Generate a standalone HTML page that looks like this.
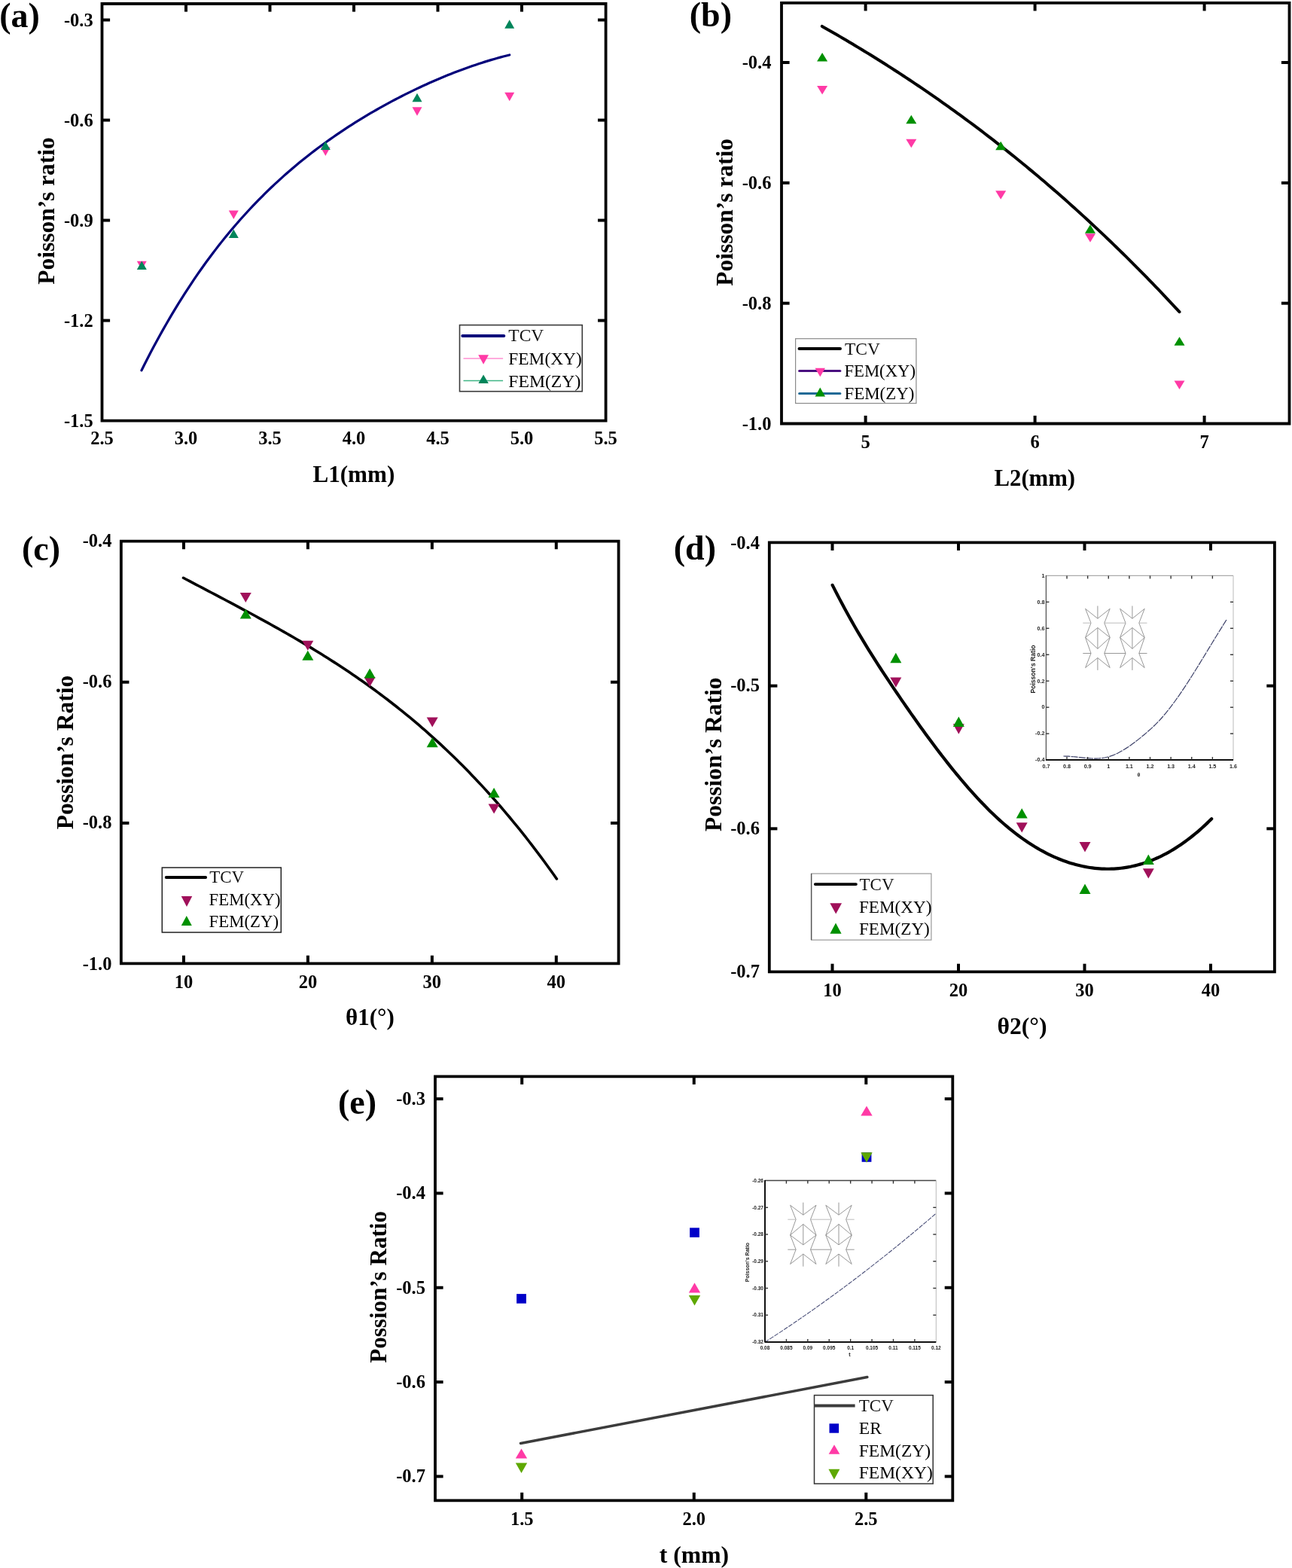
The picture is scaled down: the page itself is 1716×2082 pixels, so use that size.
<!DOCTYPE html>
<html><head><meta charset="utf-8"><style>html,body{margin:0;padding:0;background:#fff;width:1716px;height:2082px;overflow:hidden}svg{display:block}</style></head><body>
<svg width="1716" height="2082" viewBox="0 0 1716 2082">
<rect width="1716" height="2082" fill="#fff"/>
<path d="M135.50,5.00H804.60V558.60H135.50Z" fill="none" stroke="#000" stroke-width="3.8" stroke-linejoin="miter"/>
<line x1="247.00" y1="5.00" x2="247.00" y2="15.60" stroke="#000" stroke-width="4" stroke-linecap="butt"/>
<line x1="358.50" y1="5.00" x2="358.50" y2="15.60" stroke="#000" stroke-width="4" stroke-linecap="butt"/>
<line x1="470.00" y1="5.00" x2="470.00" y2="15.60" stroke="#000" stroke-width="4" stroke-linecap="butt"/>
<line x1="581.50" y1="5.00" x2="581.50" y2="15.60" stroke="#000" stroke-width="4" stroke-linecap="butt"/>
<line x1="693.00" y1="5.00" x2="693.00" y2="15.60" stroke="#000" stroke-width="4" stroke-linecap="butt"/>
<line x1="135.50" y1="26.50" x2="146.10" y2="26.50" stroke="#000" stroke-width="4" stroke-linecap="butt"/>
<line x1="804.60" y1="26.50" x2="794.00" y2="26.50" stroke="#000" stroke-width="4" stroke-linecap="butt"/>
<line x1="135.50" y1="159.53" x2="146.10" y2="159.53" stroke="#000" stroke-width="4" stroke-linecap="butt"/>
<line x1="804.60" y1="159.53" x2="794.00" y2="159.53" stroke="#000" stroke-width="4" stroke-linecap="butt"/>
<line x1="135.50" y1="292.55" x2="146.10" y2="292.55" stroke="#000" stroke-width="4" stroke-linecap="butt"/>
<line x1="804.60" y1="292.55" x2="794.00" y2="292.55" stroke="#000" stroke-width="4" stroke-linecap="butt"/>
<line x1="135.50" y1="425.57" x2="146.10" y2="425.57" stroke="#000" stroke-width="4" stroke-linecap="butt"/>
<line x1="804.60" y1="425.57" x2="794.00" y2="425.57" stroke="#000" stroke-width="4" stroke-linecap="butt"/>
<text x="135.50" y="590.30" font-family="'Liberation Serif','Times New Roman',serif" font-size="24.5" font-weight="bold" text-anchor="middle" fill="#000">2.5</text>
<text x="247.00" y="590.30" font-family="'Liberation Serif','Times New Roman',serif" font-size="24.5" font-weight="bold" text-anchor="middle" fill="#000">3.0</text>
<text x="358.50" y="590.30" font-family="'Liberation Serif','Times New Roman',serif" font-size="24.5" font-weight="bold" text-anchor="middle" fill="#000">3.5</text>
<text x="470.00" y="590.30" font-family="'Liberation Serif','Times New Roman',serif" font-size="24.5" font-weight="bold" text-anchor="middle" fill="#000">4.0</text>
<text x="581.50" y="590.30" font-family="'Liberation Serif','Times New Roman',serif" font-size="24.5" font-weight="bold" text-anchor="middle" fill="#000">4.5</text>
<text x="693.00" y="590.30" font-family="'Liberation Serif','Times New Roman',serif" font-size="24.5" font-weight="bold" text-anchor="middle" fill="#000">5.0</text>
<text x="804.50" y="590.30" font-family="'Liberation Serif','Times New Roman',serif" font-size="24.5" font-weight="bold" text-anchor="middle" fill="#000">5.5</text>
<text x="123.70" y="34.70" font-family="'Liberation Serif','Times New Roman',serif" font-size="24.5" font-weight="bold" text-anchor="end" fill="#000">-0.3</text>
<text x="123.70" y="167.72" font-family="'Liberation Serif','Times New Roman',serif" font-size="24.5" font-weight="bold" text-anchor="end" fill="#000">-0.6</text>
<text x="123.70" y="300.75" font-family="'Liberation Serif','Times New Roman',serif" font-size="24.5" font-weight="bold" text-anchor="end" fill="#000">-0.9</text>
<text x="123.70" y="433.77" font-family="'Liberation Serif','Times New Roman',serif" font-size="24.5" font-weight="bold" text-anchor="end" fill="#000">-1.2</text>
<text x="123.70" y="566.80" font-family="'Liberation Serif','Times New Roman',serif" font-size="24.5" font-weight="bold" text-anchor="end" fill="#000">-1.5</text>
<text x="0" y="0" transform="translate(469.90 639.70) scale(0.974 1)" font-family="'Liberation Serif','Times New Roman',serif" font-size="32" font-weight="bold" text-anchor="middle" fill="#000">L1(mm)</text>
<text x="71.70" y="280.00" font-family="'Liberation Serif','Times New Roman',serif" font-size="31.5" font-weight="bold" text-anchor="middle" fill="#000" transform="rotate(-90 71.7 280)">Poisson’s ratio</text>
<text x="-0.80" y="36.00" font-family="'Liberation Serif','Times New Roman',serif" font-size="46" font-weight="bold" text-anchor="start" fill="#000">(a)</text>
<polyline points="188.00,491.74 192.11,483.54 196.21,475.49 200.32,467.59 204.43,459.83 208.53,452.22 212.64,444.74 216.75,437.40 220.85,430.19 224.96,423.11 229.07,416.16 233.17,409.34 237.28,402.64 241.39,396.06 245.49,389.61 249.60,383.27 253.71,377.04 257.81,370.93 261.92,364.92 266.03,359.03 270.13,353.24 274.24,347.55 278.35,341.97 282.45,336.49 286.56,331.10 290.67,325.81 294.77,320.62 298.88,315.51 302.99,310.50 307.09,305.58 311.20,300.74 315.31,295.98 319.42,291.31 323.52,286.72 327.63,282.21 331.74,277.77 335.84,273.41 339.95,269.13 344.06,264.92 348.16,260.78 352.27,256.71 356.38,252.70 360.48,248.77 364.59,244.90 368.70,241.09 372.80,237.34 376.91,233.66 381.02,230.03 385.12,226.47 389.23,222.96 393.34,219.50 397.44,216.10 401.55,212.75 405.66,209.46 409.76,206.21 413.87,203.02 417.98,199.87 422.08,196.77 426.19,193.72 430.30,190.71 434.40,187.75 438.51,184.83 442.62,181.96 446.72,179.12 450.83,176.33 454.94,173.58 459.04,170.86 463.15,168.19 467.26,165.55 471.36,162.95 475.47,160.39 479.58,157.86 483.68,155.37 487.79,152.91 491.90,150.48 496.00,148.09 500.11,145.74 504.22,143.41 508.32,141.12 512.43,138.85 516.54,136.62 520.64,134.42 524.75,132.25 528.86,130.11 532.96,128.00 537.07,125.93 541.18,123.87 545.28,121.85 549.39,119.86 553.50,117.90 557.61,115.96 561.71,114.06 565.82,112.18 569.93,110.33 574.03,108.51 578.14,106.72 582.25,104.96 586.35,103.23 590.46,101.53 594.57,99.85 598.67,98.21 602.78,96.59 606.89,95.00 610.99,93.45 615.10,91.92 619.21,90.43 623.31,88.97 627.42,87.54 631.53,86.14 635.63,84.77 639.74,83.43 643.85,82.13 647.95,80.87 652.06,79.63 656.17,78.44 660.27,77.27 664.38,76.15 668.49,75.06 672.59,74.01 676.70,73.00" fill="none" stroke="#00007a" stroke-width="3.2" stroke-linejoin="round" stroke-linecap="round"/>
<polygon points="188.30,358.15 194.80,346.65 181.80,346.65" fill="#ff3aa6"/>
<polygon points="310.30,291.05 316.80,279.55 303.80,279.55" fill="#ff3aa6"/>
<polygon points="432.30,206.95 438.80,195.45 425.80,195.45" fill="#ff3aa6"/>
<polygon points="554.00,153.75 560.50,142.25 547.50,142.25" fill="#ff3aa6"/>
<polygon points="676.70,134.25 683.20,122.75 670.20,122.75" fill="#ff3aa6"/>
<polygon points="188.30,346.45 194.80,357.95 181.80,357.95" fill="#00855a"/>
<polygon points="310.30,304.55 316.80,316.05 303.80,316.05" fill="#00855a"/>
<polygon points="432.30,187.45 438.80,198.95 425.80,198.95" fill="#00855a"/>
<polygon points="554.00,123.65 560.50,135.15 547.50,135.15" fill="#00855a"/>
<polygon points="676.70,26.25 683.20,37.75 670.20,37.75" fill="#00855a"/>
<rect x="610.50" y="431.60" width="162.80" height="88.10" stroke="#3a3a3a" stroke-width="1.6" fill="#fff"/>
<line x1="614.40" y1="446.00" x2="669.20" y2="446.00" stroke="#00007a" stroke-width="4.2" stroke-linecap="round"/>
<text x="675.30" y="453.20" font-family="'Liberation Serif','Times New Roman',serif" font-size="23.5" font-weight="normal" text-anchor="start" fill="#111">TCV</text>
<line x1="615.50" y1="475.90" x2="668.10" y2="475.90" stroke="#ff8fd2" stroke-width="1.5" stroke-linecap="butt"/>
<polygon points="642.10,483.65 649.00,471.15 635.20,471.15" fill="#ff3aa6"/>
<text x="675.30" y="484.20" font-family="'Liberation Serif','Times New Roman',serif" font-size="23.5" font-weight="normal" text-anchor="start" fill="#000" textLength="97.5" lengthAdjust="spacingAndGlyphs">FEM(XY)</text>
<line x1="615.50" y1="505.60" x2="668.10" y2="505.60" stroke="#3fb585" stroke-width="1.5" stroke-linecap="butt"/>
<polygon points="642.10,497.50 648.85,509.10 635.35,509.10" fill="#00855a"/>
<text x="675.30" y="513.60" font-family="'Liberation Serif','Times New Roman',serif" font-size="23.5" font-weight="normal" text-anchor="start" fill="#000" textLength="96" lengthAdjust="spacingAndGlyphs">FEM(ZY)</text>
<path d="M1038.00,3.85H1712.50V562.50H1038.00Z" fill="none" stroke="#000" stroke-width="3.8" stroke-linejoin="miter"/>
<line x1="1149.60" y1="3.85" x2="1149.60" y2="14.45" stroke="#000" stroke-width="4" stroke-linecap="butt"/>
<line x1="1149.60" y1="562.50" x2="1149.60" y2="551.90" stroke="#000" stroke-width="4" stroke-linecap="butt"/>
<line x1="1374.60" y1="3.85" x2="1374.60" y2="14.45" stroke="#000" stroke-width="4" stroke-linecap="butt"/>
<line x1="1374.60" y1="562.50" x2="1374.60" y2="551.90" stroke="#000" stroke-width="4" stroke-linecap="butt"/>
<line x1="1599.60" y1="3.85" x2="1599.60" y2="14.45" stroke="#000" stroke-width="4" stroke-linecap="butt"/>
<line x1="1599.60" y1="562.50" x2="1599.60" y2="551.90" stroke="#000" stroke-width="4" stroke-linecap="butt"/>
<line x1="1038.00" y1="83.00" x2="1048.60" y2="83.00" stroke="#000" stroke-width="4" stroke-linecap="butt"/>
<line x1="1712.50" y1="83.00" x2="1701.90" y2="83.00" stroke="#000" stroke-width="4" stroke-linecap="butt"/>
<line x1="1038.00" y1="242.83" x2="1048.60" y2="242.83" stroke="#000" stroke-width="4" stroke-linecap="butt"/>
<line x1="1712.50" y1="242.83" x2="1701.90" y2="242.83" stroke="#000" stroke-width="4" stroke-linecap="butt"/>
<line x1="1038.00" y1="402.67" x2="1048.60" y2="402.67" stroke="#000" stroke-width="4" stroke-linecap="butt"/>
<line x1="1712.50" y1="402.67" x2="1701.90" y2="402.67" stroke="#000" stroke-width="4" stroke-linecap="butt"/>
<text x="1149.60" y="595.00" font-family="'Liberation Serif','Times New Roman',serif" font-size="24.5" font-weight="bold" text-anchor="middle" fill="#000">5</text>
<text x="1374.60" y="595.00" font-family="'Liberation Serif','Times New Roman',serif" font-size="24.5" font-weight="bold" text-anchor="middle" fill="#000">6</text>
<text x="1599.60" y="595.00" font-family="'Liberation Serif','Times New Roman',serif" font-size="24.5" font-weight="bold" text-anchor="middle" fill="#000">7</text>
<text x="1024.50" y="91.20" font-family="'Liberation Serif','Times New Roman',serif" font-size="24.5" font-weight="bold" text-anchor="end" fill="#000">-0.4</text>
<text x="1024.50" y="251.03" font-family="'Liberation Serif','Times New Roman',serif" font-size="24.5" font-weight="bold" text-anchor="end" fill="#000">-0.6</text>
<text x="1024.50" y="410.87" font-family="'Liberation Serif','Times New Roman',serif" font-size="24.5" font-weight="bold" text-anchor="end" fill="#000">-0.8</text>
<text x="1024.50" y="570.70" font-family="'Liberation Serif','Times New Roman',serif" font-size="24.5" font-weight="bold" text-anchor="end" fill="#000">-1.0</text>
<text x="0" y="0" transform="translate(1374.30 645.00) scale(0.962 1)" font-family="'Liberation Serif','Times New Roman',serif" font-size="32" font-weight="bold" text-anchor="middle" fill="#000">L2(mm)</text>
<text x="972.80" y="281.80" font-family="'Liberation Serif','Times New Roman',serif" font-size="31.5" font-weight="bold" text-anchor="middle" fill="#000" transform="rotate(-90 972.8 281.8)">Poisson’s ratio</text>
<text x="915.80" y="35.00" font-family="'Liberation Serif','Times New Roman',serif" font-size="46" font-weight="bold" text-anchor="start" fill="#000">(b)</text>
<polyline points="1091.80,34.91 1095.79,37.17 1099.78,39.44 1103.77,41.72 1107.76,44.01 1111.75,46.32 1115.73,48.64 1119.72,50.98 1123.71,53.32 1127.70,55.68 1131.69,58.06 1135.68,60.44 1139.67,62.84 1143.66,65.25 1147.65,67.68 1151.64,70.12 1155.63,72.57 1159.61,75.04 1163.60,77.52 1167.59,80.02 1171.58,82.53 1175.57,85.05 1179.56,87.59 1183.55,90.14 1187.54,92.70 1191.53,95.28 1195.52,97.88 1199.51,100.49 1203.49,103.11 1207.48,105.75 1211.47,108.40 1215.46,111.07 1219.45,113.75 1223.44,116.45 1227.43,119.17 1231.42,121.89 1235.41,124.64 1239.40,127.40 1243.38,130.17 1247.37,132.96 1251.36,135.77 1255.35,138.59 1259.34,141.43 1263.33,144.28 1267.32,147.15 1271.31,150.04 1275.30,152.94 1279.29,155.86 1283.28,158.79 1287.26,161.74 1291.25,164.71 1295.24,167.69 1299.23,170.69 1303.22,173.71 1307.21,176.75 1311.20,179.80 1315.19,182.87 1319.18,185.95 1323.17,189.05 1327.16,192.17 1331.14,195.31 1335.13,198.46 1339.12,201.64 1343.11,204.83 1347.10,208.03 1351.09,211.26 1355.08,214.50 1359.07,217.76 1363.06,221.04 1367.05,224.34 1371.04,227.65 1375.02,230.99 1379.01,234.34 1383.00,237.71 1386.99,241.10 1390.98,244.50 1394.97,247.93 1398.96,251.38 1402.95,254.84 1406.94,258.32 1410.93,261.82 1414.92,265.34 1418.90,268.88 1422.89,272.44 1426.88,276.02 1430.87,279.62 1434.86,283.24 1438.85,286.88 1442.84,290.53 1446.83,294.21 1450.82,297.91 1454.81,301.62 1458.79,305.36 1462.78,309.12 1466.77,312.90 1470.76,316.69 1474.75,320.51 1478.74,324.35 1482.73,328.21 1486.72,332.09 1490.71,335.99 1494.70,339.91 1498.69,343.85 1502.67,347.81 1506.66,351.80 1510.65,355.80 1514.64,359.83 1518.63,363.88 1522.62,367.95 1526.61,372.04 1530.60,376.15 1534.59,380.28 1538.58,384.44 1542.57,388.62 1546.55,392.81 1550.54,397.04 1554.53,401.28 1558.52,405.54 1562.51,409.83 1566.50,414.14" fill="none" stroke="#000" stroke-width="4" stroke-linejoin="round" stroke-linecap="round"/>
<polygon points="1092.10,69.95 1099.10,81.45 1085.10,81.45" fill="#009000"/>
<polygon points="1210.30,152.65 1217.30,164.15 1203.30,164.15" fill="#009000"/>
<polygon points="1329.20,187.75 1336.20,199.25 1322.20,199.25" fill="#009000"/>
<polygon points="1448.00,298.25 1455.00,309.75 1441.00,309.75" fill="#009000"/>
<polygon points="1566.50,447.25 1573.50,458.75 1559.50,458.75" fill="#009000"/>
<polygon points="1092.10,125.55 1099.10,114.05 1085.10,114.05" fill="#ff3aa6"/>
<polygon points="1210.30,196.25 1217.30,184.75 1203.30,184.75" fill="#ff3aa6"/>
<polygon points="1329.20,264.85 1336.20,253.35 1322.20,253.35" fill="#ff3aa6"/>
<polygon points="1448.00,321.85 1455.00,310.35 1441.00,310.35" fill="#ff3aa6"/>
<polygon points="1566.50,516.95 1573.50,505.45 1559.50,505.45" fill="#ff3aa6"/>
<rect x="1056.60" y="449.70" width="160.30" height="85.80" stroke="#8a8a8a" stroke-width="1.2" fill="#fff"/>
<line x1="1061.60" y1="463.00" x2="1115.90" y2="463.00" stroke="#000" stroke-width="4.2" stroke-linecap="round"/>
<text x="1122.00" y="470.80" font-family="'Liberation Serif','Times New Roman',serif" font-size="23.5" font-weight="normal" text-anchor="start" fill="#111">TCV</text>
<line x1="1061.60" y1="492.60" x2="1115.90" y2="492.60" stroke="#4a1080" stroke-width="3" stroke-linecap="round"/>
<polygon points="1089.30,500.35 1096.05,488.65 1082.55,488.65" fill="#ff3aa6"/>
<text x="1121.40" y="500.40" font-family="'Liberation Serif','Times New Roman',serif" font-size="23.5" font-weight="normal" text-anchor="start" fill="#000" textLength="94.7" lengthAdjust="spacingAndGlyphs">FEM(XY)</text>
<line x1="1061.60" y1="522.50" x2="1115.90" y2="522.50" stroke="#1f6a96" stroke-width="3" stroke-linecap="round"/>
<polygon points="1089.30,514.40 1096.05,526.40 1082.55,526.40" fill="#009000"/>
<text x="1121.40" y="529.70" font-family="'Liberation Serif','Times New Roman',serif" font-size="23.5" font-weight="normal" text-anchor="start" fill="#000" textLength="93" lengthAdjust="spacingAndGlyphs">FEM(ZY)</text>
<path d="M160.85,718.65H821.60V1279.30H160.85Z" fill="none" stroke="#000" stroke-width="3.8" stroke-linejoin="miter"/>
<line x1="244.00" y1="718.65" x2="244.00" y2="729.25" stroke="#000" stroke-width="4" stroke-linecap="butt"/>
<line x1="244.00" y1="1279.30" x2="244.00" y2="1268.70" stroke="#000" stroke-width="4" stroke-linecap="butt"/>
<line x1="408.93" y1="718.65" x2="408.93" y2="729.25" stroke="#000" stroke-width="4" stroke-linecap="butt"/>
<line x1="408.93" y1="1279.30" x2="408.93" y2="1268.70" stroke="#000" stroke-width="4" stroke-linecap="butt"/>
<line x1="573.87" y1="718.65" x2="573.87" y2="729.25" stroke="#000" stroke-width="4" stroke-linecap="butt"/>
<line x1="573.87" y1="1279.30" x2="573.87" y2="1268.70" stroke="#000" stroke-width="4" stroke-linecap="butt"/>
<line x1="738.80" y1="718.65" x2="738.80" y2="729.25" stroke="#000" stroke-width="4" stroke-linecap="butt"/>
<line x1="738.80" y1="1279.30" x2="738.80" y2="1268.70" stroke="#000" stroke-width="4" stroke-linecap="butt"/>
<line x1="160.85" y1="905.73" x2="171.45" y2="905.73" stroke="#000" stroke-width="4" stroke-linecap="butt"/>
<line x1="821.60" y1="905.73" x2="811.00" y2="905.73" stroke="#000" stroke-width="4" stroke-linecap="butt"/>
<line x1="160.85" y1="1092.87" x2="171.45" y2="1092.87" stroke="#000" stroke-width="4" stroke-linecap="butt"/>
<line x1="821.60" y1="1092.87" x2="811.00" y2="1092.87" stroke="#000" stroke-width="4" stroke-linecap="butt"/>
<text x="244.00" y="1311.50" font-family="'Liberation Serif','Times New Roman',serif" font-size="24.5" font-weight="bold" text-anchor="middle" fill="#000">10</text>
<text x="408.93" y="1311.50" font-family="'Liberation Serif','Times New Roman',serif" font-size="24.5" font-weight="bold" text-anchor="middle" fill="#000">20</text>
<text x="573.87" y="1311.50" font-family="'Liberation Serif','Times New Roman',serif" font-size="24.5" font-weight="bold" text-anchor="middle" fill="#000">30</text>
<text x="738.80" y="1311.50" font-family="'Liberation Serif','Times New Roman',serif" font-size="24.5" font-weight="bold" text-anchor="middle" fill="#000">40</text>
<text x="148.50" y="726.10" font-family="'Liberation Serif','Times New Roman',serif" font-size="24.5" font-weight="bold" text-anchor="end" fill="#000">-0.4</text>
<text x="148.50" y="913.23" font-family="'Liberation Serif','Times New Roman',serif" font-size="24.5" font-weight="bold" text-anchor="end" fill="#000">-0.6</text>
<text x="148.50" y="1100.37" font-family="'Liberation Serif','Times New Roman',serif" font-size="24.5" font-weight="bold" text-anchor="end" fill="#000">-0.8</text>
<text x="148.50" y="1287.50" font-family="'Liberation Serif','Times New Roman',serif" font-size="24.5" font-weight="bold" text-anchor="end" fill="#000">-1.0</text>
<text x="0" y="0" transform="translate(491.40 1360.80) scale(0.969 1)" font-family="'Liberation Serif','Times New Roman',serif" font-size="32" font-weight="bold" text-anchor="middle" fill="#000">θ1(°)</text>
<text x="97.00" y="999.10" font-family="'Liberation Serif','Times New Roman',serif" font-size="31.5" font-weight="bold" text-anchor="middle" fill="#000" transform="rotate(-90 97 999.1)">Possion’s Ratio</text>
<text x="29.00" y="744.00" font-family="'Liberation Serif','Times New Roman',serif" font-size="46" font-weight="bold" text-anchor="start" fill="#000">(c)</text>
<polyline points="243.50,767.27 247.67,769.47 251.83,771.67 256.00,773.87 260.17,776.06 264.34,778.25 268.50,780.44 272.67,782.63 276.84,784.82 281.01,787.01 285.17,789.20 289.34,791.39 293.51,793.58 297.67,795.78 301.84,797.98 306.01,800.19 310.18,802.39 314.34,804.61 318.51,806.83 322.68,809.06 326.84,811.29 331.01,813.53 335.18,815.78 339.35,818.04 343.51,820.31 347.68,822.58 351.85,824.87 356.02,827.17 360.18,829.48 364.35,831.81 368.52,834.14 372.68,836.49 376.85,838.86 381.02,841.24 385.19,843.63 389.35,846.04 393.52,848.47 397.69,850.92 401.85,853.38 406.02,855.86 410.19,858.36 414.36,860.88 418.52,863.42 422.69,865.98 426.86,868.56 431.03,871.16 435.19,873.79 439.36,876.44 443.53,879.11 447.69,881.81 451.86,884.53 456.03,887.28 460.20,890.06 464.36,892.86 468.53,895.69 472.70,898.54 476.86,901.43 481.03,904.34 485.20,907.29 489.37,910.26 493.53,913.27 497.70,916.30 501.87,919.37 506.04,922.48 510.20,925.61 514.37,928.78 518.54,931.98 522.70,935.22 526.87,938.50 531.04,941.81 535.21,945.16 539.37,948.54 543.54,951.97 547.71,955.43 551.87,958.93 556.04,962.47 560.21,966.06 564.38,969.68 568.54,973.35 572.71,977.05 576.88,980.80 581.05,984.60 585.21,988.44 589.38,992.32 593.55,996.25 597.71,1000.22 601.88,1004.24 606.05,1008.31 610.22,1012.43 614.38,1016.59 618.55,1020.81 622.72,1025.07 626.88,1029.38 631.05,1033.74 635.22,1038.16 639.39,1042.63 643.55,1047.14 647.72,1051.72 651.89,1056.34 656.06,1061.02 660.22,1065.76 664.39,1070.55 668.56,1075.40 672.72,1080.30 676.89,1085.26 681.06,1090.28 685.23,1095.36 689.39,1100.49 693.56,1105.69 697.73,1110.95 701.89,1116.26 706.06,1121.64 710.23,1127.08 714.40,1132.59 718.56,1138.16 722.73,1143.79 726.90,1149.48 731.07,1155.24 735.23,1161.07 739.40,1166.96" fill="none" stroke="#000" stroke-width="3.6" stroke-linejoin="round" stroke-linecap="round"/>
<polygon points="326.30,800.10 333.80,787.10 318.80,787.10" fill="#a0105a"/>
<polygon points="408.80,863.70 416.30,850.70 401.30,850.70" fill="#a0105a"/>
<polygon points="491.10,912.00 498.60,899.00 483.60,899.00" fill="#a0105a"/>
<polygon points="574.20,965.60 581.70,952.60 566.70,952.60" fill="#a0105a"/>
<polygon points="656.10,1080.40 663.60,1067.40 648.60,1067.40" fill="#a0105a"/>
<polygon points="326.30,808.50 333.80,821.50 318.80,821.50" fill="#009000"/>
<polygon points="408.80,863.70 416.30,876.70 401.30,876.70" fill="#009000"/>
<polygon points="491.10,887.50 498.60,900.50 483.60,900.50" fill="#009000"/>
<polygon points="574.20,979.30 581.70,992.30 566.70,992.30" fill="#009000"/>
<polygon points="656.10,1046.10 663.60,1059.10 648.60,1059.10" fill="#009000"/>
<rect x="215.30" y="1152.00" width="158.00" height="86.00" stroke="#222" stroke-width="1.5" fill="#fff"/>
<line x1="220.70" y1="1165.00" x2="273.20" y2="1165.00" stroke="#000" stroke-width="3.8" stroke-linecap="round"/>
<text x="0" y="0" transform="translate(278.20 1171.60) scale(0.98 1)" font-family="'Liberation Serif','Times New Roman',serif" font-size="23.5" font-weight="normal" text-anchor="start" fill="#111">TCV</text>
<polygon points="248.00,1204.00 255.25,1190.00 240.75,1190.00" fill="#a0105a"/>
<text x="0" y="0" transform="translate(277.60 1202.30) scale(0.97 1)" font-family="'Liberation Serif','Times New Roman',serif" font-size="23.5" font-weight="normal" text-anchor="start" fill="#000">FEM(XY)</text>
<polygon points="247.80,1216.10 254.80,1229.10 240.80,1229.10" fill="#009000"/>
<text x="0" y="0" transform="translate(277.60 1230.90) scale(0.97 1)" font-family="'Liberation Serif','Times New Roman',serif" font-size="23.5" font-weight="normal" text-anchor="start" fill="#000">FEM(ZY)</text>
<path d="M1021.80,720.30H1692.90V1290.30H1021.80Z" fill="none" stroke="#000" stroke-width="3.8" stroke-linejoin="miter"/>
<line x1="1105.50" y1="720.30" x2="1105.50" y2="730.90" stroke="#000" stroke-width="4" stroke-linecap="butt"/>
<line x1="1105.50" y1="1290.30" x2="1105.50" y2="1279.70" stroke="#000" stroke-width="4" stroke-linecap="butt"/>
<line x1="1273.00" y1="720.30" x2="1273.00" y2="730.90" stroke="#000" stroke-width="4" stroke-linecap="butt"/>
<line x1="1273.00" y1="1290.30" x2="1273.00" y2="1279.70" stroke="#000" stroke-width="4" stroke-linecap="butt"/>
<line x1="1440.50" y1="720.30" x2="1440.50" y2="730.90" stroke="#000" stroke-width="4" stroke-linecap="butt"/>
<line x1="1440.50" y1="1290.30" x2="1440.50" y2="1279.70" stroke="#000" stroke-width="4" stroke-linecap="butt"/>
<line x1="1608.00" y1="720.30" x2="1608.00" y2="730.90" stroke="#000" stroke-width="4" stroke-linecap="butt"/>
<line x1="1608.00" y1="1290.30" x2="1608.00" y2="1279.70" stroke="#000" stroke-width="4" stroke-linecap="butt"/>
<line x1="1021.80" y1="910.67" x2="1032.40" y2="910.67" stroke="#000" stroke-width="4" stroke-linecap="butt"/>
<line x1="1692.90" y1="910.67" x2="1682.30" y2="910.67" stroke="#000" stroke-width="4" stroke-linecap="butt"/>
<line x1="1021.80" y1="1100.33" x2="1032.40" y2="1100.33" stroke="#000" stroke-width="4" stroke-linecap="butt"/>
<line x1="1692.90" y1="1100.33" x2="1682.30" y2="1100.33" stroke="#000" stroke-width="4" stroke-linecap="butt"/>
<text x="1105.50" y="1323.00" font-family="'Liberation Serif','Times New Roman',serif" font-size="24.5" font-weight="bold" text-anchor="middle" fill="#000">10</text>
<text x="1273.00" y="1323.00" font-family="'Liberation Serif','Times New Roman',serif" font-size="24.5" font-weight="bold" text-anchor="middle" fill="#000">20</text>
<text x="1440.50" y="1323.00" font-family="'Liberation Serif','Times New Roman',serif" font-size="24.5" font-weight="bold" text-anchor="middle" fill="#000">30</text>
<text x="1608.00" y="1323.00" font-family="'Liberation Serif','Times New Roman',serif" font-size="24.5" font-weight="bold" text-anchor="middle" fill="#000">40</text>
<text x="1009.00" y="728.50" font-family="'Liberation Serif','Times New Roman',serif" font-size="24.5" font-weight="bold" text-anchor="end" fill="#000">-0.4</text>
<text x="1009.00" y="918.17" font-family="'Liberation Serif','Times New Roman',serif" font-size="24.5" font-weight="bold" text-anchor="end" fill="#000">-0.5</text>
<text x="1009.00" y="1107.83" font-family="'Liberation Serif','Times New Roman',serif" font-size="24.5" font-weight="bold" text-anchor="end" fill="#000">-0.6</text>
<text x="1009.00" y="1297.50" font-family="'Liberation Serif','Times New Roman',serif" font-size="24.5" font-weight="bold" text-anchor="end" fill="#000">-0.7</text>
<text x="0" y="0" transform="translate(1357.50 1373.20) scale(0.99 1)" font-family="'Liberation Serif','Times New Roman',serif" font-size="32" font-weight="bold" text-anchor="middle" fill="#000">θ2(°)</text>
<text x="957.60" y="1001.80" font-family="'Liberation Serif','Times New Roman',serif" font-size="31.5" font-weight="bold" text-anchor="middle" fill="#000" transform="rotate(-90 957.6 1001.8)">Possion’s Ratio</text>
<text x="894.80" y="743.30" font-family="'Liberation Serif','Times New Roman',serif" font-size="46" font-weight="bold" text-anchor="start" fill="#000">(d)</text>
<polyline points="1105.60,776.83 1108.77,783.11 1111.93,789.29 1115.10,795.37 1118.27,801.35 1121.44,807.25 1124.60,813.05 1127.77,818.77 1130.94,824.40 1134.11,829.96 1137.27,835.44 1140.44,840.84 1143.61,846.18 1146.77,851.45 1149.94,856.66 1153.11,861.80 1156.28,866.89 1159.44,871.93 1162.61,876.92 1165.78,881.85 1168.95,886.75 1172.11,891.60 1175.28,896.42 1178.45,901.20 1181.62,905.95 1184.78,910.67 1187.95,915.36 1191.12,920.04 1194.28,924.69 1197.45,929.32 1200.62,933.92 1203.79,938.50 1206.95,943.05 1210.12,947.58 1213.29,952.08 1216.46,956.56 1219.62,961.00 1222.79,965.42 1225.96,969.80 1229.12,974.16 1232.29,978.49 1235.46,982.78 1238.63,987.04 1241.79,991.27 1244.96,995.46 1248.13,999.62 1251.30,1003.74 1254.46,1007.82 1257.63,1011.86 1260.80,1015.86 1263.96,1019.82 1267.13,1023.74 1270.30,1027.61 1273.47,1031.44 1276.63,1035.23 1279.80,1038.96 1282.97,1042.65 1286.14,1046.29 1289.30,1049.88 1292.47,1053.42 1295.64,1056.90 1298.81,1060.34 1301.97,1063.71 1305.14,1067.03 1308.31,1070.30 1311.47,1073.50 1314.64,1076.65 1317.81,1079.74 1320.98,1082.77 1324.14,1085.73 1327.31,1088.63 1330.48,1091.47 1333.65,1094.24 1336.81,1096.95 1339.98,1099.59 1343.15,1102.17 1346.31,1104.69 1349.48,1107.15 1352.65,1109.54 1355.82,1111.86 1358.98,1114.13 1362.15,1116.33 1365.32,1118.46 1368.49,1120.54 1371.65,1122.55 1374.82,1124.49 1377.99,1126.38 1381.15,1128.20 1384.32,1129.96 1387.49,1131.65 1390.66,1133.28 1393.82,1134.85 1396.99,1136.36 1400.16,1137.80 1403.33,1139.18 1406.49,1140.50 1409.66,1141.76 1412.83,1142.95 1415.99,1144.08 1419.16,1145.15 1422.33,1146.16 1425.50,1147.10 1428.66,1147.98 1431.83,1148.80 1435.00,1149.56 1438.17,1150.25 1441.33,1150.89 1444.50,1151.46 1447.67,1151.97 1450.84,1152.41 1454.00,1152.79 1457.17,1153.11 1460.34,1153.37 1463.50,1153.56 1466.67,1153.69 1469.84,1153.75 1473.01,1153.75 1476.17,1153.68 1479.34,1153.55 1482.51,1153.35 1485.68,1153.08 1488.84,1152.75 1492.01,1152.35 1495.18,1151.88 1498.34,1151.35 1501.51,1150.75 1504.68,1150.07 1507.85,1149.33 1511.01,1148.52 1514.18,1147.64 1517.35,1146.69 1520.52,1145.67 1523.68,1144.58 1526.85,1143.42 1530.02,1142.19 1533.18,1140.89 1536.35,1139.51 1539.52,1138.06 1542.69,1136.54 1545.85,1134.95 1549.02,1133.28 1552.19,1131.54 1555.36,1129.73 1558.52,1127.84 1561.69,1125.88 1564.86,1123.84 1568.03,1121.72 1571.19,1119.53 1574.36,1117.27 1577.53,1114.93 1580.69,1112.51 1583.86,1110.01 1587.03,1107.44 1590.20,1104.79 1593.36,1102.06 1596.53,1099.25 1599.70,1096.36 1602.87,1093.40 1606.03,1090.35 1609.20,1087.23" fill="none" stroke="#000" stroke-width="4.2" stroke-linejoin="round" stroke-linecap="round"/>
<polygon points="1189.80,912.80 1197.30,899.40 1182.30,899.40" fill="#a0105a"/>
<polygon points="1273.30,974.70 1280.80,961.30 1265.80,961.30" fill="#a0105a"/>
<polygon points="1357.20,1105.60 1364.70,1092.20 1349.70,1092.20" fill="#a0105a"/>
<polygon points="1441.00,1131.40 1448.50,1118.00 1433.50,1118.00" fill="#a0105a"/>
<polygon points="1525.30,1166.60 1532.80,1153.20 1517.80,1153.20" fill="#a0105a"/>
<polygon points="1189.80,866.80 1197.30,880.20 1182.30,880.20" fill="#009000"/>
<polygon points="1273.30,951.50 1280.80,964.90 1265.80,964.90" fill="#009000"/>
<polygon points="1357.20,1073.20 1364.70,1086.60 1349.70,1086.60" fill="#009000"/>
<polygon points="1441.00,1173.60 1448.50,1187.00 1433.50,1187.00" fill="#009000"/>
<polygon points="1525.30,1134.60 1532.80,1148.00 1517.80,1148.00" fill="#009000"/>
<rect x="1389.4" y="764.4" width="248.5999999999999" height="244.70000000000005" fill="#fff"/>
<polyline points="1441.60,808.30 1449.00,827.20 1441.60,846.50 1449.00,867.50 1441.60,886.60" fill="none" stroke="#8c8c8c" stroke-width="0.9" stroke-linejoin="round" stroke-linecap="butt"/>
<polyline points="1474.20,808.30 1466.80,827.20 1474.20,846.50 1466.80,867.50 1474.20,886.60" fill="none" stroke="#8c8c8c" stroke-width="0.9" stroke-linejoin="round" stroke-linecap="butt"/>
<polyline points="1441.60,808.30 1457.90,821.30 1474.20,808.30" fill="none" stroke="#8c8c8c" stroke-width="0.9" stroke-linejoin="round" stroke-linecap="butt"/>
<polyline points="1441.60,886.60 1457.90,873.50 1474.20,886.60" fill="none" stroke="#8c8c8c" stroke-width="0.9" stroke-linejoin="round" stroke-linecap="butt"/>
<polygon points="1457.90,833.50 1474.20,846.50 1457.90,861.40 1441.60,846.50" fill="none" stroke="#8c8c8c" stroke-width="0.9"/>
<line x1="1457.90" y1="804.50" x2="1457.90" y2="821.30" stroke="#8c8c8c" stroke-width="0.9" stroke-linecap="butt"/>
<line x1="1457.90" y1="833.50" x2="1457.90" y2="861.40" stroke="#8c8c8c" stroke-width="0.9" stroke-linecap="butt"/>
<line x1="1457.90" y1="873.50" x2="1457.90" y2="889.90" stroke="#8c8c8c" stroke-width="0.9" stroke-linecap="butt"/>
<polyline points="1487.60,808.30 1495.00,827.20 1487.60,846.50 1495.00,867.50 1487.60,886.60" fill="none" stroke="#8c8c8c" stroke-width="0.9" stroke-linejoin="round" stroke-linecap="butt"/>
<polyline points="1520.20,808.30 1512.80,827.20 1520.20,846.50 1512.80,867.50 1520.20,886.60" fill="none" stroke="#8c8c8c" stroke-width="0.9" stroke-linejoin="round" stroke-linecap="butt"/>
<polyline points="1487.60,808.30 1503.90,821.30 1520.20,808.30" fill="none" stroke="#8c8c8c" stroke-width="0.9" stroke-linejoin="round" stroke-linecap="butt"/>
<polyline points="1487.60,886.60 1503.90,873.50 1520.20,886.60" fill="none" stroke="#8c8c8c" stroke-width="0.9" stroke-linejoin="round" stroke-linecap="butt"/>
<polygon points="1503.90,833.50 1520.20,846.50 1503.90,861.40 1487.60,846.50" fill="none" stroke="#8c8c8c" stroke-width="0.9"/>
<line x1="1503.90" y1="804.50" x2="1503.90" y2="821.30" stroke="#8c8c8c" stroke-width="0.9" stroke-linecap="butt"/>
<line x1="1503.90" y1="833.50" x2="1503.90" y2="861.40" stroke="#8c8c8c" stroke-width="0.9" stroke-linecap="butt"/>
<line x1="1503.90" y1="873.50" x2="1503.90" y2="889.90" stroke="#8c8c8c" stroke-width="0.9" stroke-linecap="butt"/>
<line x1="1438.30" y1="827.20" x2="1449.00" y2="827.20" stroke="#b5b5b5" stroke-width="0.9" stroke-linecap="butt"/>
<line x1="1466.80" y1="827.20" x2="1495.00" y2="827.20" stroke="#b5b5b5" stroke-width="0.9" stroke-linecap="butt"/>
<line x1="1512.80" y1="827.20" x2="1523.50" y2="827.20" stroke="#b5b5b5" stroke-width="0.9" stroke-linecap="butt"/>
<line x1="1438.30" y1="867.50" x2="1449.00" y2="867.50" stroke="#8c8c8c" stroke-width="0.9" stroke-linecap="butt"/>
<line x1="1466.80" y1="867.50" x2="1495.00" y2="867.50" stroke="#8c8c8c" stroke-width="0.9" stroke-linecap="butt"/>
<line x1="1512.80" y1="867.50" x2="1523.50" y2="867.50" stroke="#8c8c8c" stroke-width="0.9" stroke-linecap="butt"/>
<polyline points="1412.40,1004.00 1414.59,1004.03 1416.78,1004.11 1418.97,1004.22 1421.16,1004.37 1423.35,1004.55 1425.54,1004.75 1427.73,1004.97 1429.92,1005.21 1432.11,1005.45 1434.30,1005.69 1436.49,1005.93 1438.68,1006.17 1440.87,1006.38 1443.06,1006.58 1445.25,1006.76 1447.44,1006.90 1449.63,1007.01 1451.82,1007.08 1454.01,1007.11 1456.20,1007.08 1458.39,1006.99 1460.58,1006.85 1462.77,1006.63 1464.96,1006.35 1467.15,1005.98 1469.34,1005.54 1471.53,1005.00 1473.72,1004.37 1475.91,1003.65 1478.10,1002.84 1480.29,1001.95 1482.48,1000.97 1484.67,999.92 1486.86,998.79 1489.05,997.59 1491.24,996.33 1493.43,995.00 1495.62,993.62 1497.81,992.18 1500.00,990.69 1502.19,989.16 1504.38,987.58 1506.57,985.96 1508.76,984.30 1510.95,982.60 1513.14,980.87 1515.33,979.11 1517.52,977.32 1519.71,975.49 1521.89,973.64 1524.08,971.75 1526.27,969.82 1528.46,967.85 1530.65,965.82 1532.84,963.73 1535.03,961.59 1537.22,959.37 1539.41,957.08 1541.60,954.72 1543.79,952.27 1545.98,949.73 1548.17,947.12 1550.36,944.44 1552.55,941.68 1554.74,938.86 1556.93,935.96 1559.12,933.01 1561.31,929.99 1563.50,926.92 1565.69,923.80 1567.88,920.62 1570.07,917.40 1572.26,914.13 1574.45,910.82 1576.64,907.47 1578.83,904.09 1581.02,900.67 1583.21,897.22 1585.40,893.75 1587.59,890.25 1589.78,886.73 1591.97,883.18 1594.16,879.63 1596.35,876.05 1598.54,872.47 1600.73,868.88 1602.92,865.28 1605.11,861.68 1607.30,858.08 1609.49,854.48 1611.68,850.88 1613.87,847.29 1616.06,843.71 1618.25,840.15 1620.44,836.60 1622.63,833.07 1624.82,829.55 1627.01,826.06 1629.20,822.60" fill="none" stroke="#3c4068" stroke-width="1.2" stroke-linejoin="round" stroke-linecap="butt" stroke-dasharray="9,1.2"/>
<line x1="1389.40" y1="764.40" x2="1638.00" y2="764.40" stroke="#aaa" stroke-width="1.1" stroke-linecap="butt"/>
<line x1="1638.00" y1="764.40" x2="1638.00" y2="1009.10" stroke="#bbb" stroke-width="1" stroke-linecap="butt"/>
<line x1="1389.40" y1="763.90" x2="1389.40" y2="1009.10" stroke="#555" stroke-width="1.3" stroke-linecap="butt"/>
<line x1="1388.90" y1="1009.10" x2="1638.00" y2="1009.10" stroke="#111" stroke-width="2" stroke-linecap="butt"/>
<line x1="1417.02" y1="764.40" x2="1417.02" y2="768.40" stroke="#333" stroke-width="1.4" stroke-linecap="butt"/>
<line x1="1417.02" y1="1009.10" x2="1417.02" y2="1005.10" stroke="#333" stroke-width="1.4" stroke-linecap="butt"/>
<line x1="1444.64" y1="764.40" x2="1444.64" y2="768.40" stroke="#333" stroke-width="1.4" stroke-linecap="butt"/>
<line x1="1444.64" y1="1009.10" x2="1444.64" y2="1005.10" stroke="#333" stroke-width="1.4" stroke-linecap="butt"/>
<line x1="1472.27" y1="764.40" x2="1472.27" y2="768.40" stroke="#333" stroke-width="1.4" stroke-linecap="butt"/>
<line x1="1472.27" y1="1009.10" x2="1472.27" y2="1005.10" stroke="#333" stroke-width="1.4" stroke-linecap="butt"/>
<line x1="1499.89" y1="764.40" x2="1499.89" y2="768.40" stroke="#333" stroke-width="1.4" stroke-linecap="butt"/>
<line x1="1499.89" y1="1009.10" x2="1499.89" y2="1005.10" stroke="#333" stroke-width="1.4" stroke-linecap="butt"/>
<line x1="1527.51" y1="764.40" x2="1527.51" y2="768.40" stroke="#333" stroke-width="1.4" stroke-linecap="butt"/>
<line x1="1527.51" y1="1009.10" x2="1527.51" y2="1005.10" stroke="#333" stroke-width="1.4" stroke-linecap="butt"/>
<line x1="1555.13" y1="764.40" x2="1555.13" y2="768.40" stroke="#333" stroke-width="1.4" stroke-linecap="butt"/>
<line x1="1555.13" y1="1009.10" x2="1555.13" y2="1005.10" stroke="#333" stroke-width="1.4" stroke-linecap="butt"/>
<line x1="1582.76" y1="764.40" x2="1582.76" y2="768.40" stroke="#333" stroke-width="1.4" stroke-linecap="butt"/>
<line x1="1582.76" y1="1009.10" x2="1582.76" y2="1005.10" stroke="#333" stroke-width="1.4" stroke-linecap="butt"/>
<line x1="1610.38" y1="764.40" x2="1610.38" y2="768.40" stroke="#333" stroke-width="1.4" stroke-linecap="butt"/>
<line x1="1610.38" y1="1009.10" x2="1610.38" y2="1005.10" stroke="#333" stroke-width="1.4" stroke-linecap="butt"/>
<line x1="1389.40" y1="799.36" x2="1393.40" y2="799.36" stroke="#333" stroke-width="1.4" stroke-linecap="butt"/>
<line x1="1638.00" y1="799.36" x2="1634.00" y2="799.36" stroke="#333" stroke-width="1.4" stroke-linecap="butt"/>
<line x1="1389.40" y1="834.31" x2="1393.40" y2="834.31" stroke="#333" stroke-width="1.4" stroke-linecap="butt"/>
<line x1="1638.00" y1="834.31" x2="1634.00" y2="834.31" stroke="#333" stroke-width="1.4" stroke-linecap="butt"/>
<line x1="1389.40" y1="869.27" x2="1393.40" y2="869.27" stroke="#333" stroke-width="1.4" stroke-linecap="butt"/>
<line x1="1638.00" y1="869.27" x2="1634.00" y2="869.27" stroke="#333" stroke-width="1.4" stroke-linecap="butt"/>
<line x1="1389.40" y1="904.23" x2="1393.40" y2="904.23" stroke="#333" stroke-width="1.4" stroke-linecap="butt"/>
<line x1="1638.00" y1="904.23" x2="1634.00" y2="904.23" stroke="#333" stroke-width="1.4" stroke-linecap="butt"/>
<line x1="1389.40" y1="939.19" x2="1393.40" y2="939.19" stroke="#333" stroke-width="1.4" stroke-linecap="butt"/>
<line x1="1638.00" y1="939.19" x2="1634.00" y2="939.19" stroke="#333" stroke-width="1.4" stroke-linecap="butt"/>
<line x1="1389.40" y1="974.14" x2="1393.40" y2="974.14" stroke="#333" stroke-width="1.4" stroke-linecap="butt"/>
<line x1="1638.00" y1="974.14" x2="1634.00" y2="974.14" stroke="#333" stroke-width="1.4" stroke-linecap="butt"/>
<text x="1389.40" y="1019.60" font-family="'Liberation Sans',Arial,sans-serif" font-size="7.2" font-weight="bold" text-anchor="middle" fill="#222">0.7</text>
<text x="1417.02" y="1019.60" font-family="'Liberation Sans',Arial,sans-serif" font-size="7.2" font-weight="bold" text-anchor="middle" fill="#222">0.8</text>
<text x="1444.64" y="1019.60" font-family="'Liberation Sans',Arial,sans-serif" font-size="7.2" font-weight="bold" text-anchor="middle" fill="#222">0.9</text>
<text x="1472.27" y="1019.60" font-family="'Liberation Sans',Arial,sans-serif" font-size="7.2" font-weight="bold" text-anchor="middle" fill="#222">1</text>
<text x="1499.89" y="1019.60" font-family="'Liberation Sans',Arial,sans-serif" font-size="7.2" font-weight="bold" text-anchor="middle" fill="#222">1.1</text>
<text x="1527.51" y="1019.60" font-family="'Liberation Sans',Arial,sans-serif" font-size="7.2" font-weight="bold" text-anchor="middle" fill="#222">1.2</text>
<text x="1555.13" y="1019.60" font-family="'Liberation Sans',Arial,sans-serif" font-size="7.2" font-weight="bold" text-anchor="middle" fill="#222">1.3</text>
<text x="1582.76" y="1019.60" font-family="'Liberation Sans',Arial,sans-serif" font-size="7.2" font-weight="bold" text-anchor="middle" fill="#222">1.4</text>
<text x="1610.38" y="1019.60" font-family="'Liberation Sans',Arial,sans-serif" font-size="7.2" font-weight="bold" text-anchor="middle" fill="#222">1.5</text>
<text x="1638.00" y="1019.60" font-family="'Liberation Sans',Arial,sans-serif" font-size="7.2" font-weight="bold" text-anchor="middle" fill="#222">1.6</text>
<text x="1387.40" y="766.70" font-family="'Liberation Sans',Arial,sans-serif" font-size="7.2" font-weight="bold" text-anchor="end" fill="#222">1</text>
<text x="1387.40" y="801.66" font-family="'Liberation Sans',Arial,sans-serif" font-size="7.2" font-weight="bold" text-anchor="end" fill="#222">0.8</text>
<text x="1387.40" y="836.61" font-family="'Liberation Sans',Arial,sans-serif" font-size="7.2" font-weight="bold" text-anchor="end" fill="#222">0.6</text>
<text x="1387.40" y="871.57" font-family="'Liberation Sans',Arial,sans-serif" font-size="7.2" font-weight="bold" text-anchor="end" fill="#222">0.4</text>
<text x="1387.40" y="906.53" font-family="'Liberation Sans',Arial,sans-serif" font-size="7.2" font-weight="bold" text-anchor="end" fill="#222">0.2</text>
<text x="1387.40" y="941.49" font-family="'Liberation Sans',Arial,sans-serif" font-size="7.2" font-weight="bold" text-anchor="end" fill="#222">0</text>
<text x="1387.40" y="976.44" font-family="'Liberation Sans',Arial,sans-serif" font-size="7.2" font-weight="bold" text-anchor="end" fill="#222">-0.2</text>
<text x="1387.40" y="1011.40" font-family="'Liberation Sans',Arial,sans-serif" font-size="7.2" font-weight="bold" text-anchor="end" fill="#222">-0.4</text>
<text x="1374.80" y="888.50" font-family="'Liberation Sans',Arial,sans-serif" font-size="8.6" font-weight="bold" text-anchor="middle" fill="#222" transform="rotate(-90 1374.8 888.5)">Poisson's Ratio</text>
<text x="1512.40" y="1031.00" font-family="'Liberation Sans',Arial,sans-serif" font-size="7" font-weight="bold" text-anchor="middle" fill="#222">θ</text>
<rect x="1077.60" y="1160.00" width="159.30" height="88.10" stroke="#999" stroke-width="1.2" fill="#fff"/>
<line x1="1077.60" y1="1160.00" x2="1077.60" y2="1248.10" stroke="#555" stroke-width="1.4" stroke-linecap="butt"/>
<line x1="1082.80" y1="1174.10" x2="1136.90" y2="1174.10" stroke="#000" stroke-width="3.8" stroke-linecap="round"/>
<text x="0" y="0" transform="translate(1141.50 1181.50) scale(0.98 1)" font-family="'Liberation Serif','Times New Roman',serif" font-size="23.5" font-weight="normal" text-anchor="start" fill="#111">TCV</text>
<polygon points="1110.20,1213.50 1118.05,1199.30 1102.35,1199.30" fill="#a0105a"/>
<text x="0" y="0" transform="translate(1141.00 1211.90) scale(0.985 1)" font-family="'Liberation Serif','Times New Roman',serif" font-size="23.5" font-weight="normal" text-anchor="start" fill="#000">FEM(XY)</text>
<polygon points="1110.00,1225.50 1117.60,1239.70 1102.40,1239.70" fill="#009000"/>
<text x="0" y="0" transform="translate(1141.00 1241.30) scale(0.985 1)" font-family="'Liberation Serif','Times New Roman',serif" font-size="23.5" font-weight="normal" text-anchor="start" fill="#000">FEM(ZY)</text>
<path d="M578.00,1429.30H1265.30V1992.40H578.00Z" fill="none" stroke="#000" stroke-width="3.8" stroke-linejoin="miter"/>
<line x1="693.20" y1="1429.30" x2="693.20" y2="1439.90" stroke="#000" stroke-width="4" stroke-linecap="butt"/>
<line x1="693.20" y1="1992.40" x2="693.20" y2="1981.80" stroke="#000" stroke-width="4" stroke-linecap="butt"/>
<line x1="921.75" y1="1429.30" x2="921.75" y2="1439.90" stroke="#000" stroke-width="4" stroke-linecap="butt"/>
<line x1="921.75" y1="1992.40" x2="921.75" y2="1981.80" stroke="#000" stroke-width="4" stroke-linecap="butt"/>
<line x1="1150.30" y1="1429.30" x2="1150.30" y2="1439.90" stroke="#000" stroke-width="4" stroke-linecap="butt"/>
<line x1="1150.30" y1="1992.40" x2="1150.30" y2="1981.80" stroke="#000" stroke-width="4" stroke-linecap="butt"/>
<line x1="578.00" y1="1459.10" x2="588.60" y2="1459.10" stroke="#000" stroke-width="4" stroke-linecap="butt"/>
<line x1="1265.30" y1="1459.10" x2="1254.70" y2="1459.10" stroke="#000" stroke-width="4" stroke-linecap="butt"/>
<line x1="578.00" y1="1584.42" x2="588.60" y2="1584.42" stroke="#000" stroke-width="4" stroke-linecap="butt"/>
<line x1="1265.30" y1="1584.42" x2="1254.70" y2="1584.42" stroke="#000" stroke-width="4" stroke-linecap="butt"/>
<line x1="578.00" y1="1709.75" x2="588.60" y2="1709.75" stroke="#000" stroke-width="4" stroke-linecap="butt"/>
<line x1="1265.30" y1="1709.75" x2="1254.70" y2="1709.75" stroke="#000" stroke-width="4" stroke-linecap="butt"/>
<line x1="578.00" y1="1835.07" x2="588.60" y2="1835.07" stroke="#000" stroke-width="4" stroke-linecap="butt"/>
<line x1="1265.30" y1="1835.07" x2="1254.70" y2="1835.07" stroke="#000" stroke-width="4" stroke-linecap="butt"/>
<line x1="578.00" y1="1960.40" x2="588.60" y2="1960.40" stroke="#000" stroke-width="4" stroke-linecap="butt"/>
<line x1="1265.30" y1="1960.40" x2="1254.70" y2="1960.40" stroke="#000" stroke-width="4" stroke-linecap="butt"/>
<text x="693.20" y="2025.00" font-family="'Liberation Serif','Times New Roman',serif" font-size="24.5" font-weight="bold" text-anchor="middle" fill="#000">1.5</text>
<text x="921.75" y="2025.00" font-family="'Liberation Serif','Times New Roman',serif" font-size="24.5" font-weight="bold" text-anchor="middle" fill="#000">2.0</text>
<text x="1150.30" y="2025.00" font-family="'Liberation Serif','Times New Roman',serif" font-size="24.5" font-weight="bold" text-anchor="middle" fill="#000">2.5</text>
<text x="565.00" y="1467.10" font-family="'Liberation Serif','Times New Roman',serif" font-size="24.5" font-weight="bold" text-anchor="end" fill="#000">-0.3</text>
<text x="565.00" y="1592.42" font-family="'Liberation Serif','Times New Roman',serif" font-size="24.5" font-weight="bold" text-anchor="end" fill="#000">-0.4</text>
<text x="565.00" y="1717.75" font-family="'Liberation Serif','Times New Roman',serif" font-size="24.5" font-weight="bold" text-anchor="end" fill="#000">-0.5</text>
<text x="565.00" y="1843.07" font-family="'Liberation Serif','Times New Roman',serif" font-size="24.5" font-weight="bold" text-anchor="end" fill="#000">-0.6</text>
<text x="565.00" y="1968.40" font-family="'Liberation Serif','Times New Roman',serif" font-size="24.5" font-weight="bold" text-anchor="end" fill="#000">-0.7</text>
<text x="0" y="0" transform="translate(922.00 2074.50) scale(0.99 1)" font-family="'Liberation Serif','Times New Roman',serif" font-size="32" font-weight="bold" text-anchor="middle" fill="#000">t (mm)</text>
<text x="512.80" y="1708.90" font-family="'Liberation Serif','Times New Roman',serif" font-size="31.1" font-weight="bold" text-anchor="middle" fill="#000" transform="rotate(-90 512.8 1708.9)">Possion’s Ratio</text>
<text x="449.00" y="1479.00" font-family="'Liberation Serif','Times New Roman',serif" font-size="46" font-weight="bold" text-anchor="start" fill="#000">(e)</text>
<line x1="691.50" y1="1916.50" x2="1151.80" y2="1828.60" stroke="#3c3c3c" stroke-width="3.6" stroke-linecap="round"/>
<rect x="686.10" y="1718.10" width="12.80" height="12.60" fill="#0000c8"/>
<rect x="916.10" y="1630.30" width="12.80" height="12.60" fill="#0000c8"/>
<rect x="1144.60" y="1530.20" width="12.80" height="12.60" fill="#0000c8"/>
<polygon points="692.50,1923.40 700.20,1936.60 684.80,1936.60" fill="#ff3aa6"/>
<polygon points="922.50,1703.30 930.20,1716.50 914.80,1716.50" fill="#ff3aa6"/>
<polygon points="1151.00,1468.40 1158.70,1481.60 1143.30,1481.60" fill="#ff3aa6"/>
<polygon points="692.50,1955.90 700.20,1942.50 684.80,1942.50" fill="#5ea800"/>
<polygon points="922.50,1733.40 930.20,1720.00 914.80,1720.00" fill="#5ea800"/>
<polygon points="1151.00,1543.70 1158.70,1530.30 1143.30,1530.30" fill="#5ea800"/>
<rect x="1016" y="1567.6" width="227.29999999999995" height="214.30000000000018" fill="#fff"/>
<polyline points="1049.60,1600.30 1057.10,1619.20 1049.60,1640.00 1057.10,1659.20 1049.60,1678.50" fill="none" stroke="#8c8c8c" stroke-width="0.9" stroke-linejoin="round" stroke-linecap="butt"/>
<polyline points="1084.00,1600.30 1076.50,1619.20 1084.00,1640.00 1076.50,1659.20 1084.00,1678.50" fill="none" stroke="#8c8c8c" stroke-width="0.9" stroke-linejoin="round" stroke-linecap="butt"/>
<polyline points="1049.60,1600.30 1066.80,1613.20 1084.00,1600.30" fill="none" stroke="#8c8c8c" stroke-width="0.9" stroke-linejoin="round" stroke-linecap="butt"/>
<polyline points="1049.60,1678.50 1066.80,1665.10 1084.00,1678.50" fill="none" stroke="#8c8c8c" stroke-width="0.9" stroke-linejoin="round" stroke-linecap="butt"/>
<polygon points="1066.80,1625.50 1084.00,1640.00 1066.80,1652.90 1049.60,1640.00" fill="none" stroke="#8c8c8c" stroke-width="0.9"/>
<line x1="1066.80" y1="1596.70" x2="1066.80" y2="1613.20" stroke="#8c8c8c" stroke-width="0.9" stroke-linecap="butt"/>
<line x1="1066.80" y1="1625.50" x2="1066.80" y2="1652.90" stroke="#8c8c8c" stroke-width="0.9" stroke-linecap="butt"/>
<line x1="1066.80" y1="1665.10" x2="1066.80" y2="1681.70" stroke="#8c8c8c" stroke-width="0.9" stroke-linecap="butt"/>
<polyline points="1096.80,1600.30 1104.30,1619.20 1096.80,1640.00 1104.30,1659.20 1096.80,1678.50" fill="none" stroke="#8c8c8c" stroke-width="0.9" stroke-linejoin="round" stroke-linecap="butt"/>
<polyline points="1131.20,1600.30 1123.70,1619.20 1131.20,1640.00 1123.70,1659.20 1131.20,1678.50" fill="none" stroke="#8c8c8c" stroke-width="0.9" stroke-linejoin="round" stroke-linecap="butt"/>
<polyline points="1096.80,1600.30 1114.00,1613.20 1131.20,1600.30" fill="none" stroke="#8c8c8c" stroke-width="0.9" stroke-linejoin="round" stroke-linecap="butt"/>
<polyline points="1096.80,1678.50 1114.00,1665.10 1131.20,1678.50" fill="none" stroke="#8c8c8c" stroke-width="0.9" stroke-linejoin="round" stroke-linecap="butt"/>
<polygon points="1114.00,1625.50 1131.20,1640.00 1114.00,1652.90 1096.80,1640.00" fill="none" stroke="#8c8c8c" stroke-width="0.9"/>
<line x1="1114.00" y1="1596.70" x2="1114.00" y2="1613.20" stroke="#8c8c8c" stroke-width="0.9" stroke-linecap="butt"/>
<line x1="1114.00" y1="1625.50" x2="1114.00" y2="1652.90" stroke="#8c8c8c" stroke-width="0.9" stroke-linecap="butt"/>
<line x1="1114.00" y1="1665.10" x2="1114.00" y2="1681.70" stroke="#8c8c8c" stroke-width="0.9" stroke-linecap="butt"/>
<line x1="1046.30" y1="1619.20" x2="1057.10" y2="1619.20" stroke="#b5b5b5" stroke-width="0.9" stroke-linecap="butt"/>
<line x1="1076.50" y1="1619.20" x2="1104.30" y2="1619.20" stroke="#b5b5b5" stroke-width="0.9" stroke-linecap="butt"/>
<line x1="1123.70" y1="1619.20" x2="1134.70" y2="1619.20" stroke="#b5b5b5" stroke-width="0.9" stroke-linecap="butt"/>
<line x1="1046.30" y1="1659.20" x2="1057.10" y2="1659.20" stroke="#8c8c8c" stroke-width="0.9" stroke-linecap="butt"/>
<line x1="1076.50" y1="1659.20" x2="1104.30" y2="1659.20" stroke="#8c8c8c" stroke-width="0.9" stroke-linecap="butt"/>
<line x1="1123.70" y1="1659.20" x2="1134.70" y2="1659.20" stroke="#8c8c8c" stroke-width="0.9" stroke-linecap="butt"/>
<polyline points="1016.00,1782.09 1017.91,1780.86 1019.82,1779.63 1021.73,1778.39 1023.64,1777.15 1025.55,1775.91 1027.46,1774.67 1029.37,1773.41 1031.28,1772.16 1033.19,1770.90 1035.10,1769.64 1037.01,1768.38 1038.92,1767.11 1040.83,1765.84 1042.74,1764.56 1044.65,1763.29 1046.56,1762.00 1048.47,1760.72 1050.38,1759.43 1052.29,1758.14 1054.20,1756.84 1056.11,1755.54 1058.02,1754.24 1059.93,1752.93 1061.84,1751.62 1063.75,1750.31 1065.66,1748.99 1067.57,1747.67 1069.48,1746.35 1071.39,1745.02 1073.30,1743.69 1075.21,1742.36 1077.12,1741.02 1079.03,1739.68 1080.94,1738.33 1082.85,1736.98 1084.76,1735.63 1086.67,1734.27 1088.58,1732.91 1090.49,1731.55 1092.40,1730.19 1094.31,1728.82 1096.22,1727.44 1098.13,1726.07 1100.04,1724.69 1101.95,1723.30 1103.86,1721.91 1105.77,1720.52 1107.68,1719.13 1109.59,1717.73 1111.50,1716.33 1113.41,1714.93 1115.32,1713.52 1117.23,1712.10 1119.14,1710.69 1121.05,1709.27 1122.96,1707.85 1124.87,1706.42 1126.78,1704.99 1128.69,1703.56 1130.61,1702.12 1132.52,1700.68 1134.43,1699.24 1136.34,1697.79 1138.25,1696.34 1140.16,1694.89 1142.07,1693.43 1143.98,1691.97 1145.89,1690.50 1147.80,1689.04 1149.71,1687.56 1151.62,1686.09 1153.53,1684.61 1155.44,1683.13 1157.35,1681.64 1159.26,1680.15 1161.17,1678.66 1163.08,1677.16 1164.99,1675.66 1166.90,1674.16 1168.81,1672.65 1170.72,1671.14 1172.63,1669.63 1174.54,1668.11 1176.45,1666.59 1178.36,1665.07 1180.27,1663.54 1182.18,1662.01 1184.09,1660.47 1186.00,1658.94 1187.91,1657.39 1189.82,1655.85 1191.73,1654.30 1193.64,1652.75 1195.55,1651.19 1197.46,1649.63 1199.37,1648.07 1201.28,1646.50 1203.19,1644.93 1205.10,1643.36 1207.01,1641.78 1208.92,1640.20 1210.83,1638.62 1212.74,1637.03 1214.65,1635.44 1216.56,1633.84 1218.47,1632.24 1220.38,1630.64 1222.29,1629.04 1224.20,1627.43 1226.11,1625.82 1228.02,1624.20 1229.93,1622.58 1231.84,1620.96 1233.75,1619.33 1235.66,1617.70 1237.57,1616.07 1239.48,1614.43 1241.39,1612.79 1243.30,1611.15" fill="none" stroke="#4a4f78" stroke-width="1.1" stroke-linejoin="round" stroke-linecap="butt" stroke-dasharray="6,1.5"/>
<line x1="1016.00" y1="1567.60" x2="1243.30" y2="1567.60" stroke="#444" stroke-width="1.5" stroke-linecap="butt"/>
<line x1="1243.30" y1="1567.60" x2="1243.30" y2="1781.90" stroke="#bbb" stroke-width="1" stroke-linecap="butt"/>
<line x1="1016.00" y1="1567.10" x2="1016.00" y2="1781.90" stroke="#111" stroke-width="2" stroke-linecap="butt"/>
<line x1="1015.50" y1="1781.90" x2="1243.30" y2="1781.90" stroke="#111" stroke-width="2" stroke-linecap="butt"/>
<line x1="1044.41" y1="1567.60" x2="1044.41" y2="1571.60" stroke="#333" stroke-width="1.4" stroke-linecap="butt"/>
<line x1="1044.41" y1="1781.90" x2="1044.41" y2="1777.90" stroke="#333" stroke-width="1.4" stroke-linecap="butt"/>
<line x1="1072.83" y1="1567.60" x2="1072.83" y2="1571.60" stroke="#333" stroke-width="1.4" stroke-linecap="butt"/>
<line x1="1072.83" y1="1781.90" x2="1072.83" y2="1777.90" stroke="#333" stroke-width="1.4" stroke-linecap="butt"/>
<line x1="1101.24" y1="1567.60" x2="1101.24" y2="1571.60" stroke="#333" stroke-width="1.4" stroke-linecap="butt"/>
<line x1="1101.24" y1="1781.90" x2="1101.24" y2="1777.90" stroke="#333" stroke-width="1.4" stroke-linecap="butt"/>
<line x1="1129.65" y1="1567.60" x2="1129.65" y2="1571.60" stroke="#333" stroke-width="1.4" stroke-linecap="butt"/>
<line x1="1129.65" y1="1781.90" x2="1129.65" y2="1777.90" stroke="#333" stroke-width="1.4" stroke-linecap="butt"/>
<line x1="1158.06" y1="1567.60" x2="1158.06" y2="1571.60" stroke="#333" stroke-width="1.4" stroke-linecap="butt"/>
<line x1="1158.06" y1="1781.90" x2="1158.06" y2="1777.90" stroke="#333" stroke-width="1.4" stroke-linecap="butt"/>
<line x1="1186.47" y1="1567.60" x2="1186.47" y2="1571.60" stroke="#333" stroke-width="1.4" stroke-linecap="butt"/>
<line x1="1186.47" y1="1781.90" x2="1186.47" y2="1777.90" stroke="#333" stroke-width="1.4" stroke-linecap="butt"/>
<line x1="1214.89" y1="1567.60" x2="1214.89" y2="1571.60" stroke="#333" stroke-width="1.4" stroke-linecap="butt"/>
<line x1="1214.89" y1="1781.90" x2="1214.89" y2="1777.90" stroke="#333" stroke-width="1.4" stroke-linecap="butt"/>
<line x1="1016.00" y1="1603.32" x2="1020.00" y2="1603.32" stroke="#333" stroke-width="1.4" stroke-linecap="butt"/>
<line x1="1243.30" y1="1603.32" x2="1239.30" y2="1603.32" stroke="#333" stroke-width="1.4" stroke-linecap="butt"/>
<line x1="1016.00" y1="1639.03" x2="1020.00" y2="1639.03" stroke="#333" stroke-width="1.4" stroke-linecap="butt"/>
<line x1="1243.30" y1="1639.03" x2="1239.30" y2="1639.03" stroke="#333" stroke-width="1.4" stroke-linecap="butt"/>
<line x1="1016.00" y1="1674.75" x2="1020.00" y2="1674.75" stroke="#333" stroke-width="1.4" stroke-linecap="butt"/>
<line x1="1243.30" y1="1674.75" x2="1239.30" y2="1674.75" stroke="#333" stroke-width="1.4" stroke-linecap="butt"/>
<line x1="1016.00" y1="1710.47" x2="1020.00" y2="1710.47" stroke="#333" stroke-width="1.4" stroke-linecap="butt"/>
<line x1="1243.30" y1="1710.47" x2="1239.30" y2="1710.47" stroke="#333" stroke-width="1.4" stroke-linecap="butt"/>
<line x1="1016.00" y1="1746.18" x2="1020.00" y2="1746.18" stroke="#333" stroke-width="1.4" stroke-linecap="butt"/>
<line x1="1243.30" y1="1746.18" x2="1239.30" y2="1746.18" stroke="#333" stroke-width="1.4" stroke-linecap="butt"/>
<text x="1016.00" y="1792.40" font-family="'Liberation Sans',Arial,sans-serif" font-size="6.5" font-weight="bold" text-anchor="middle" fill="#222">0.08</text>
<text x="1044.41" y="1792.40" font-family="'Liberation Sans',Arial,sans-serif" font-size="6.5" font-weight="bold" text-anchor="middle" fill="#222">0.085</text>
<text x="1072.83" y="1792.40" font-family="'Liberation Sans',Arial,sans-serif" font-size="6.5" font-weight="bold" text-anchor="middle" fill="#222">0.09</text>
<text x="1101.24" y="1792.40" font-family="'Liberation Sans',Arial,sans-serif" font-size="6.5" font-weight="bold" text-anchor="middle" fill="#222">0.095</text>
<text x="1129.65" y="1792.40" font-family="'Liberation Sans',Arial,sans-serif" font-size="6.5" font-weight="bold" text-anchor="middle" fill="#222">0.1</text>
<text x="1158.06" y="1792.40" font-family="'Liberation Sans',Arial,sans-serif" font-size="6.5" font-weight="bold" text-anchor="middle" fill="#222">0.105</text>
<text x="1186.47" y="1792.40" font-family="'Liberation Sans',Arial,sans-serif" font-size="6.5" font-weight="bold" text-anchor="middle" fill="#222">0.11</text>
<text x="1214.89" y="1792.40" font-family="'Liberation Sans',Arial,sans-serif" font-size="6.5" font-weight="bold" text-anchor="middle" fill="#222">0.115</text>
<text x="1243.30" y="1792.40" font-family="'Liberation Sans',Arial,sans-serif" font-size="6.5" font-weight="bold" text-anchor="middle" fill="#222">0.12</text>
<text x="1014.00" y="1569.90" font-family="'Liberation Sans',Arial,sans-serif" font-size="6.5" font-weight="bold" text-anchor="end" fill="#222">-0.26</text>
<text x="1014.00" y="1605.62" font-family="'Liberation Sans',Arial,sans-serif" font-size="6.5" font-weight="bold" text-anchor="end" fill="#222">-0.27</text>
<text x="1014.00" y="1641.33" font-family="'Liberation Sans',Arial,sans-serif" font-size="6.5" font-weight="bold" text-anchor="end" fill="#222">-0.28</text>
<text x="1014.00" y="1677.05" font-family="'Liberation Sans',Arial,sans-serif" font-size="6.5" font-weight="bold" text-anchor="end" fill="#222">-0.29</text>
<text x="1014.00" y="1712.77" font-family="'Liberation Sans',Arial,sans-serif" font-size="6.5" font-weight="bold" text-anchor="end" fill="#222">-0.30</text>
<text x="1014.00" y="1748.48" font-family="'Liberation Sans',Arial,sans-serif" font-size="6.5" font-weight="bold" text-anchor="end" fill="#222">-0.31</text>
<text x="1014.00" y="1784.20" font-family="'Liberation Sans',Arial,sans-serif" font-size="6.5" font-weight="bold" text-anchor="end" fill="#222">-0.32</text>
<text x="994.50" y="1676.00" font-family="'Liberation Sans',Arial,sans-serif" font-size="7" font-weight="bold" text-anchor="middle" fill="#222" transform="rotate(-90 994.5 1676)">Poisson's Ratio</text>
<text x="1128.50" y="1801.00" font-family="'Liberation Sans',Arial,sans-serif" font-size="7" font-weight="bold" text-anchor="middle" fill="#222">t</text>
<rect x="1081.50" y="1852.60" width="157.70" height="117.50" stroke="#333" stroke-width="1.5" fill="#fff"/>
<line x1="1081.50" y1="1866.50" x2="1135.60" y2="1866.50" stroke="#3c3c3c" stroke-width="4" stroke-linecap="butt"/>
<text x="0" y="0" transform="translate(1140.80 1873.90) scale(0.98 1)" font-family="'Liberation Serif','Times New Roman',serif" font-size="23.5" font-weight="normal" text-anchor="start" fill="#111">TCV</text>
<rect x="1101.50" y="1890.30" width="12.60" height="12.40" fill="#0000c8"/>
<text x="1140.80" y="1903.80" font-family="'Liberation Serif','Times New Roman',serif" font-size="23.5" font-weight="normal" text-anchor="start" fill="#000">ER</text>
<polygon points="1108.00,1918.20 1115.35,1930.80 1100.65,1930.80" fill="#ff3aa6"/>
<text x="1140.80" y="1933.70" font-family="'Liberation Serif','Times New Roman',serif" font-size="23.5" font-weight="normal" text-anchor="start" fill="#000">FEM(ZY)</text>
<polygon points="1107.90,1964.60 1115.35,1950.80 1100.45,1950.80" fill="#5ea800"/>
<text x="1140.80" y="1963.00" font-family="'Liberation Serif','Times New Roman',serif" font-size="23.5" font-weight="normal" text-anchor="start" fill="#000">FEM(XY)</text>
</svg>
</body></html>
